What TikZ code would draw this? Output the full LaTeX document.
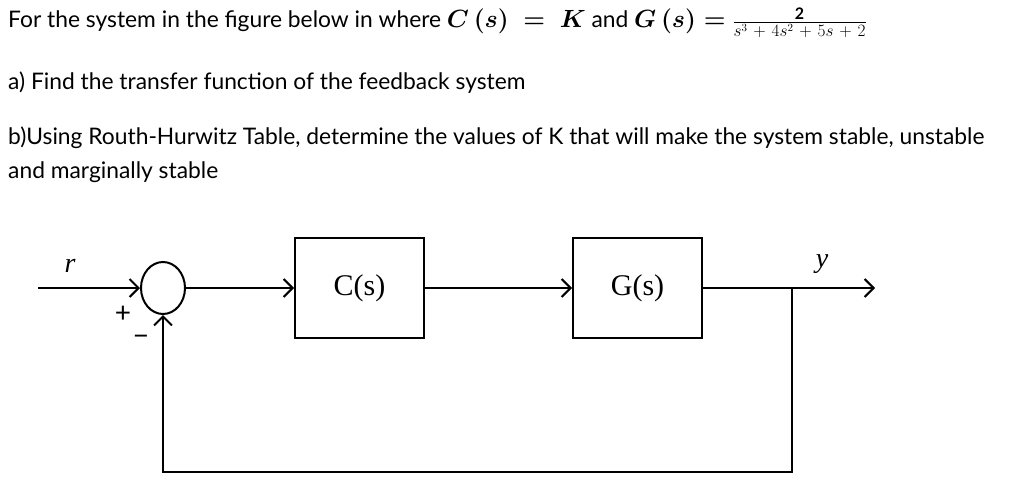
\documentclass[tikz,border=0pt]{standalone}
\usepackage{amsmath}
\usepackage{fontspec}
\setmainfont{Lato}
\newfontfamily\serifb{Liberation Serif}
\usetikzlibrary{arrows.meta,shapes.geometric}
\begin{document}
\begin{tikzpicture}[x=1pt,y=-1pt,
  txt/.style={anchor=base west,inner sep=0,font=\fontsize{22.8}{26}\selectfont},
  blk/.style={draw,line width=2pt,minimum width=129pt,minimum height=100pt,font=\serifb\fontsize{30}{34}\selectfont},
  ln/.style={line width=2pt},
  arr/.style={ln,-{Straight Barb[length=9pt,width=18pt,line width=2pt]}}]
\useasboundingbox (0,0) rectangle (1024,500);
\node[txt] (t1) at (8,28) {For the system in the figure below in where {\fontsize{26}{28}\selectfont\boldmath$C\left(s\right)\ =\ K$} and {\fontsize{26}{28}\selectfont\boldmath$G\left(s\right)=\ $}$\frac{\mathbf{2}}{s^3\ +\ 4s^2\ +\ 5s\ +\ 2}$};
\node[txt] (t2) at (8,90) {a) Find the transfer function of the feedback system};
\node[txt] (t3) at (8,144) {b)Using Routh-Hurwitz Table, determine the values of K that will make the system stable, unstable};
\node[txt] (t4) at (8,178) {and marginally stable};
\node[draw,ellipse,ln,minimum width=44pt,minimum height=52pt,inner sep=0] (sum) at (163,288) {};
\node[blk] (C) at (359.5,288) {C(s)};
\node[blk] (G) at (637.5,288) {G(s)};
\coordinate (in) at (38,288);
\coordinate (br) at (792,288);
\coordinate (out) at (875,288);
\coordinate (bl) at (792,472);
\coordinate (bll) at (163,472);
\draw[arr] (in) -- (sum.west);
\draw[arr] (sum.east) -- (C.west);
\draw[arr] (C.east) -- (G.west);
\draw[arr] (G.east) -- (out);
\draw[arr] (br) -- (bl) -- (bll) -- (sum.south);
\node[font=\serifb\itshape\fontsize{28}{30}\selectfont] (r) at (70,266) {r};
\node[font=\serifb\itshape\fontsize{28}{30}\selectfont] (y) at (822,264) {y};
\node[font=\fontsize{28}{30}\selectfont] (p) at (123,314) {+};
\node[font=\fontsize{28}{30}\selectfont] (m) at (141,340) {\textminus};
\end{tikzpicture}
\end{document}
